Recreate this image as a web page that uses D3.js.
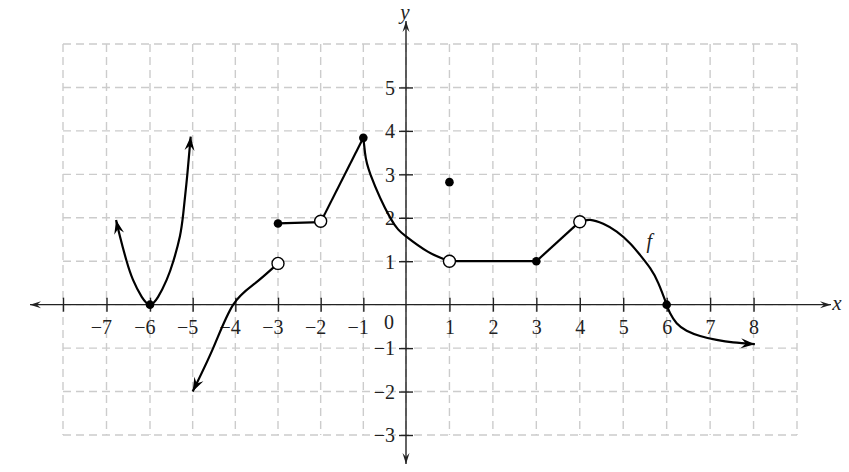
<!DOCTYPE html>
<html>
<head>
<meta charset="utf-8">
<script src="https://cdn.jsdelivr.net/npm/d3@7"></script>
<style>
  body { margin: 0; background: #fff; }
</style>
</head>
<body>
<div id="chart"></div>
<script>
// grid extents
const xGrid = d3.range(-8, 10);
const yGrid = d3.range(-3, 7);

// tick values
const xTicks = [-8, -7, -6, -5, -4, -3, -2, -1, 1, 2, 3, 4, 5, 6, 7, 8];
const yTicks = [-3, -2, -1, 1, 2, 3, 4, 5];

// pieces of f (x increasing)
const parabola = [[-6.78, 1.95], [-6.69, 1.57], [-6.54, 1.01], [-6.39, 0.57], [-6.19, 0.18], [-6, 0],
    [-5.81, 0.18], [-5.61, 0.57], [-5.45, 1.01], [-5.3, 1.57], [-5.22, 2.1], [-5.125, 3.0], [-5.046, 3.87]];
const logPiece = [[-5.0, -2.0], [-4.52, -1.0], [-4.05, 0], [-3.54, 0.49], [-3, 0.95]];
const flatStep = [[-3, 1.87], [-2, 1.9]];
const rise = [[-2, 1.9], [-1, 3.84]];
const decay = [[-1, 3.84], [-0.96, 3.49], [-0.83, 2.99], [-0.375, 2.01], [0, 1.57], [0.5, 1.22], [1, 1]];
const flatOne = [[1, 1], [3, 1]];
const rise2 = [[3, 1], [4, 1.91]];
const tail = [[4, 1.91], [4.24, 1.95], [4.54, 1.86], [4.85, 1.68], [5.16, 1.41], [5.39, 1.14], [5.62, 0.84],
    [5.81, 0.49], [6, 0], [6.08, -0.2], [6.23, -0.43], [6.46, -0.6], [6.77, -0.72], [7.15, -0.81], [7.53, -0.87], [8.03, -0.91]];

const filledDots = [[-6, 0], [-3, 1.87], [-1, 3.84], [1, 2.82], [3, 1], [6, 0]];
const openDots = [[-3, 0.95], [-2, 1.92], [1, 1], [4, 1.91]];

const FONT = '"Liberation Serif", "Times New Roman", serif';
const width = 849, height = 472;

const svg = d3.select("#chart").append("svg")
    .attr("width", width)
    .attr("height", height);

// the printed grid is slightly uneven, so the x scale is piecewise
const x = d3.scaleLinear().domain([-8, -6, 0, 9]).range([63, 150, 406, 797]);
const y = d3.scaleLinear().domain([-3, 6]).range([435, 44]);

// arrow heads
const defs = svg.append("defs");
function addArrow(id, len, half, notch, color) {
    defs.append("marker")
        .attr("id", id)
        .attr("markerUnits", "userSpaceOnUse")
        .attr("viewBox", `${-len - 1} ${-half - 1} ${len + 2} ${2 * half + 2}`)
        .attr("markerWidth", len + 2)
        .attr("markerHeight", 2 * half + 2)
        .attr("refX", 0)
        .attr("refY", 0)
        .attr("orient", "auto-start-reverse")
        .append("path")
        .attr("d", `M0,0L${-len},${-half}L${-notch},0L${-len},${half}Z`)
        .attr("fill", color);
}
addArrow("arrow", 14, 5, 9, "#000");
addArrow("axisArrow", 11, 3.5, 7, "#222");

// dashed grid
const grid = svg.append("g")
    .attr("stroke", "#cccccc")
    .attr("stroke-width", 1.4)
    .attr("stroke-dasharray", "8,5");

grid.selectAll(".vline")
    .data(xGrid)
    .enter().append("line")
    .attr("class", "vline")
    .attr("x1", d => x(d)).attr("x2", d => x(d))
    .attr("y1", y(6)).attr("y2", y(-3));

grid.selectAll(".hline")
    .data(yGrid)
    .enter().append("line")
    .attr("class", "hline")
    .attr("y1", d => y(d)).attr("y2", d => y(d))
    .attr("x1", x(-8)).attr("x2", x(9));

// axes lines with arrows
svg.append("line")
    .attr("x1", 30).attr("x2", 831)
    .attr("y1", y(0)).attr("y2", y(0))
    .attr("stroke", "#222").attr("stroke-width", 1.4)
    .attr("marker-start", "url(#axisArrow)")
    .attr("marker-end", "url(#axisArrow)");

svg.append("line")
    .attr("x1", x(0)).attr("x2", x(0))
    .attr("y1", 21).attr("y2", 464)
    .attr("stroke", "#222").attr("stroke-width", 1.4)
    .attr("marker-start", "url(#axisArrow)")
    .attr("marker-end", "url(#axisArrow)");

const fmt = d => d < 0 ? "\u2212" + Math.abs(d) : String(d);

// x ticks
const xAxis = d3.axisBottom(x)
    .tickValues(xTicks)
    .tickSizeOuter(0)
    .tickFormat(d => d === -8 ? "" : fmt(d));

const xAxisGroup = svg.append("g")
    .attr("transform", `translate(0,${y(0)})`)
    .call(xAxis);
xAxisGroup.select(".domain").remove();
xAxisGroup.selectAll(".tick line")
    .attr("y1", -7).attr("y2", 7)
    .attr("stroke", "#222").attr("stroke-width", 1.4);
xAxisGroup.selectAll(".tick text")
    .attr("y", 29).attr("dy", null)
    .attr("font-size", 20)
    .attr("fill", "#222")
    .style("font-family", FONT)
    .attr("text-anchor", d => d < 0 ? "end" : "middle")
    .attr("x", d => d < 0 ? 5 : 0);

// y ticks
const yAxis = d3.axisLeft(y)
    .tickValues(yTicks)
    .tickSizeOuter(0)
    .tickFormat(fmt);

const yAxisGroup = svg.append("g")
    .attr("transform", `translate(${x(0)},0)`)
    .call(yAxis);
yAxisGroup.select(".domain").remove();
yAxisGroup.selectAll(".tick line")
    .attr("x1", -7).attr("x2", 7)
    .attr("stroke", "#222").attr("stroke-width", 1.4);
yAxisGroup.selectAll(".tick text")
    .attr("x", -11).attr("dy", "0.34em")
    .attr("font-size", 20)
    .attr("fill", "#222")
    .style("font-family", FONT)
    .attr("text-anchor", "end");

// origin and axis names
function label(px, py, txt, size, italic) {
    svg.append("text")
        .attr("x", px).attr("y", py)
        .attr("text-anchor", "middle")
        .attr("font-size", size)
        .attr("font-style", italic ? "italic" : "normal")
        .attr("fill", "#222")
        .style("font-family", FONT)
        .text(txt);
}
label(x(0) - 17, y(0) + 24, "0", 20, false);
label(x(0) - 1, 19, "y", 21, true);
label(837, y(0) + 5, "x", 21, true);

// graph of f
const smooth = d3.line().x(d => x(d[0])).y(d => y(d[1])).curve(d3.curveNatural);
const straight = d3.line().x(d => x(d[0])).y(d => y(d[1]));

const curves = svg.append("g")
    .attr("fill", "none")
    .attr("stroke", "#000")
    .attr("stroke-width", 2.2)
    .attr("stroke-linejoin", "round");

curves.append("path").attr("d", smooth(parabola))
    .attr("marker-start", "url(#arrow)")
    .attr("marker-end", "url(#arrow)");
curves.append("path").attr("d", smooth(logPiece))
    .attr("marker-start", "url(#arrow)");
curves.append("path").attr("d", straight(flatStep));
curves.append("path").attr("d", straight(rise));
curves.append("path").attr("d", smooth(decay));
curves.append("path").attr("d", straight(flatOne));
curves.append("path").attr("d", straight(rise2));
curves.append("path").attr("d", smooth(tail))
    .attr("marker-end", "url(#arrow)");

label(x(5.6), y(1.3), "f", 20, true);

// endpoints
svg.selectAll(".filled")
    .data(filledDots)
    .enter().append("circle")
    .attr("class", "filled")
    .attr("cx", d => x(d[0]))
    .attr("cy", d => y(d[1]))
    .attr("r", 4.3)
    .attr("fill", "#000");

svg.selectAll(".open")
    .data(openDots)
    .enter().append("circle")
    .attr("class", "open")
    .attr("cx", d => x(d[0]))
    .attr("cy", d => y(d[1]))
    .attr("r", 6)
    .attr("fill", "#fff")
    .attr("stroke", "#000")
    .attr("stroke-width", 1.4);
</script>
</body>
</html>
